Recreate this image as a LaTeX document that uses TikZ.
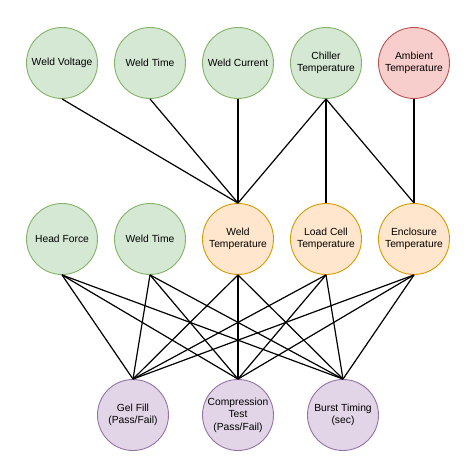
\documentclass[tikz,border=0pt]{standalone}
\usepackage{fontspec}
\setmainfont{Liberation Sans}
\definecolor{gfill}{HTML}{D5E8D4}\definecolor{gline}{HTML}{82B366}
\definecolor{ofill}{HTML}{FFE6CC}\definecolor{oline}{HTML}{D79B00}
\definecolor{rfill}{HTML}{F8CECC}\definecolor{rline}{HTML}{B85450}
\definecolor{pfill}{HTML}{E1D5E7}\definecolor{pline}{HTML}{9673A6}
\begin{document}
\begin{tikzpicture}[x=1pt,y=-1pt,
  circ/.style={circle,minimum size=71pt,inner sep=0pt,line width=0.9pt,align=center,
    font=\fontsize{10.3}{12.5}\selectfont},
  gnode/.style={circ,draw=gline,fill=gfill},
  onode/.style={circ,draw=oline,fill=ofill},
  rnode/.style={circ,draw=rline,fill=rfill},
  pnode/.style={circ,draw=pline,fill=pfill},
  edge/.style={line width=1.2pt,black}]
\useasboundingbox (0,0) rectangle (474,465);
% top row
\node[gnode] (wv) at (62,63) {Weld Voltage};
\node[gnode] (wt1) at (150,63) {Weld Time};
\node[gnode] (wc) at (238,63) {Weld Current};
\node[gnode] (ct) at (326,63) {Chiller\\Temperature};
\node[rnode] (at) at (414,63) {Ambient\\Temperature};
% middle row
\node[gnode] (hf) at (62,239) {Head Force};
\node[gnode] (wt2) at (150,239) {Weld Time};
\node[onode] (wtemp) at (238,239) {Weld\\Temperature};
\node[onode] (lct) at (326,239) {Load Cell\\Temperature};
\node[onode] (et) at (414,239) {Enclosure\\Temperature};
% bottom row
\node[pnode] (gf) at (133,415) {Gel Fill\\(Pass/Fail)};
\node[pnode] (cmp) at (238,415) {Compression\\Test\\(Pass/Fail)};
\node[pnode] (bt) at (343,415) {Burst Timing\\(sec)};
% top to middle
\foreach \s in {wv,wt1,wc,ct} \draw[edge] (\s.south) -- (wtemp.north);
\draw[edge] (ct.south) -- (lct.north);
\draw[edge] (ct.south) -- (et.north);
\draw[edge] (at.south) -- (et.north);
% middle to bottom
\foreach \s in {hf,wt2,wtemp,lct,et}
  \foreach \t in {gf,cmp,bt}
    \draw[edge] (\s.south) -- (\t.north);
\end{tikzpicture}
\end{document}
